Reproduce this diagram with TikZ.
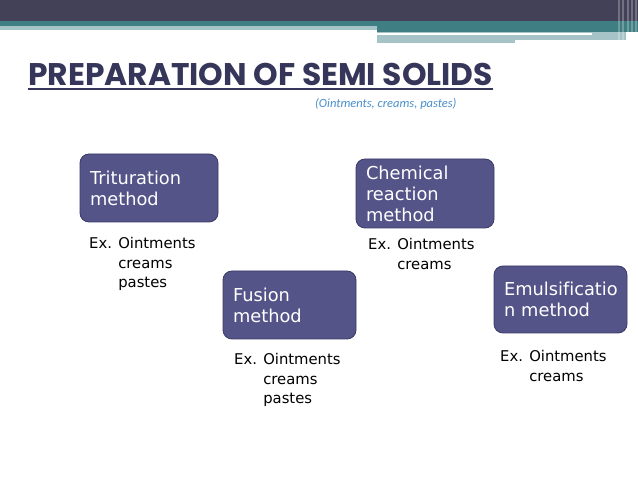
\documentclass[tikz,border=0pt]{standalone}
\usepackage{fontspec}
\setmainfont{DejaVu Sans}[Ligatures=NoCommon]
\newfontfamily\titlefont{Poppins}
\newfontfamily\notefont{Carlito}
\definecolor{bannerdark}{HTML}{434158}
\definecolor{bannerteal}{HTML}{3F7E82}
\definecolor{bannerlight}{HTML}{A6C4C7}
\definecolor{titleblue}{HTML}{36365A}
\definecolor{noteblue}{HTML}{4A8FCC}
\definecolor{boxfill}{HTML}{545489}
\definecolor{boxedge}{HTML}{3A3A66}

\begin{document}
\begin{tikzpicture}[x=1pt,y=-1pt,
  methodbox/.style={draw=boxedge, fill=boxfill, rounded corners=9pt, line width=0.8pt,
    text=white, align=left, inner xsep=10pt, inner ysep=0pt,
    font=\fontsize{17.8}{21}\selectfont},
  exlist/.style={align=left, inner sep=0pt, anchor=north west,
    font=\fontsize{14.8}{19.5}\selectfont}]
		%%%%% START %%%%%
		
		\fill[white] (0,0) rectangle (638,478);
		\useasboundingbox (0,0) rectangle (638,478);
		
		% banner
		\fill[bannerdark] (0,0) rectangle (638,21);
		\fill[bannerteal] (0,21) rectangle (638,26);
		\fill[bannerteal] (377,26) rectangle (638,32);
		\fill[bannerlight] (0,26) rectangle (377,30);
		\fill[bannerlight] (377,32) rectangle (626,40);
		\fill[white] (377,33.5) rectangle (592,35.5);
		\fill[bannerlight] (377,40) rectangle (515,43);
		\foreach \xs in {618,622,627,631,635}
			\fill[white, opacity=0.25] (\xs,0) rectangle (\xs+1.5,42);
		
		% title
		\node[anchor=base west, inner sep=0pt, text=titleblue,
			font=\titlefont\bfseries\fontsize{31.3}{32}\selectfont] (title) at (28,86) {PREPARATION OF SEMI SOLIDS};
		\draw[titleblue, line width=2pt] ([yshift=-2.5pt]title.south west) -- ([yshift=-2.5pt]title.south east);
		\node[anchor=base west, inner sep=0pt, text=noteblue,
			font=\notefont\itshape\fontsize{12.5}{14}\selectfont] (subtitle) at (315,108) {(Ointments, creams, pastes)};
		
		% methods
		\node[methodbox, text width=118pt, minimum height=68pt] (tritbox) at (149,188) {Trituration\\method};
		\node[methodbox, text width=118pt, minimum height=69pt] (chembox) at (425,193.5) {Chemical\\reaction\\method};
		\node[methodbox, text width=113pt, minimum height=68pt] (fusbox) at (289.5,305) {Fusion\\method};
		\node[methodbox, text width=113pt, minimum height=67pt] (emulbox) at (560.5,299.5) {Emulsificatio\\n method};
		
		% examples
		\node[exlist] (tritex) at (89,237.5) {Ex. Ointments\\\phantom{Ex. }creams\\\phantom{Ex. }pastes};
		\node[exlist] (chemex) at (368,238.5) {Ex. Ointments\\\phantom{Ex. }creams};
		\node[exlist] (fusex) at (234,353.5) {Ex. Ointments\\\phantom{Ex. }creams\\\phantom{Ex. }pastes};
		\node[exlist] (emulex) at (500,350.5) {Ex. Ointments\\\phantom{Ex. }creams};
		
		%%%%% END %%%%%
\end{tikzpicture}
\end{document}
